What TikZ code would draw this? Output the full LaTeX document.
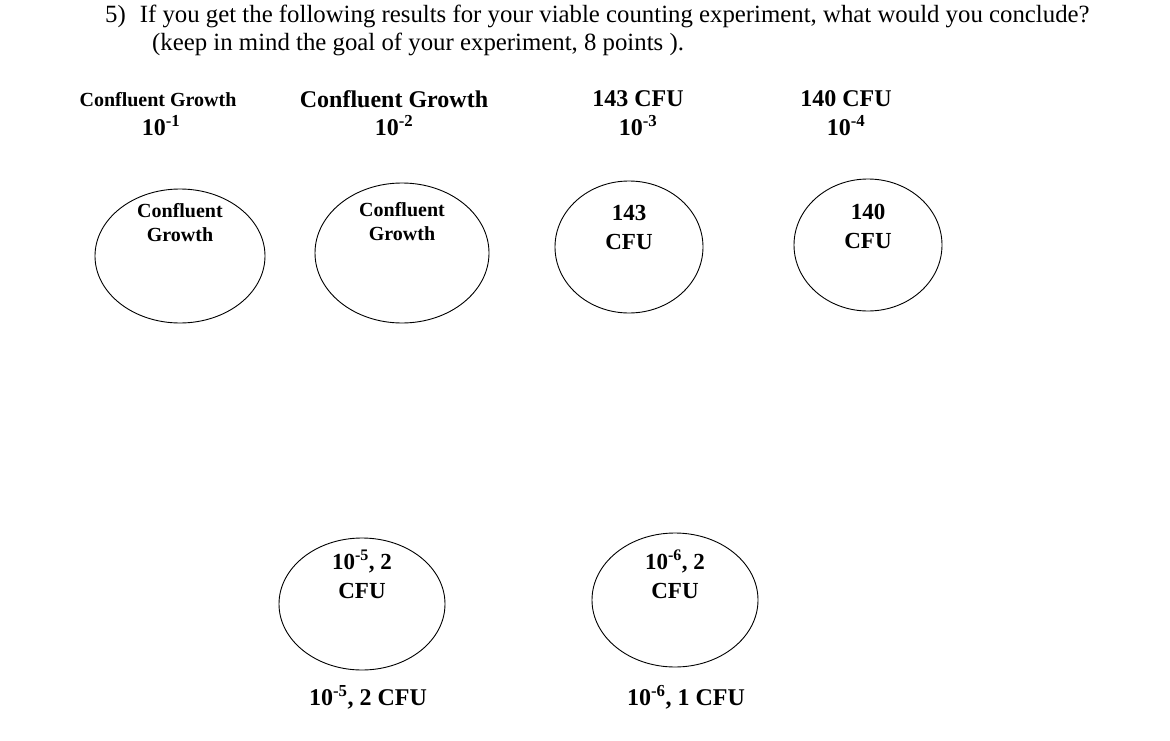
\documentclass[tikz,border=0pt]{standalone}
\usepackage{fontspec}
\setmainfont{Liberation Serif}
\newcommand{\ex}[1]{\textsuperscript{#1}}
\begin{document}
\begin{tikzpicture}[x=1pt,y=-1pt,
  plate/.style={draw,line width=0.9pt},
  lab/.style={font=\bfseries\fontsize{24}{28}\selectfont,align=center,inner sep=0pt},
  slab/.style={font=\bfseries\fontsize{20}{24}\selectfont,align=center,inner sep=0pt},
  clab/.style={font=\bfseries\fontsize{23}{29}\selectfont,align=center,inner sep=0pt}]
\useasboundingbox (0,0) rectangle (1170,741);
\node[anchor=west,inner sep=0pt,font=\fontsize{24.8}{28}\selectfont] (q1) at (105,16) {5)\hspace{14pt}If you get the following results for your viable counting experiment, what would you conclude?};
\node[anchor=west,inner sep=0pt,font=\fontsize{24.8}{28}\selectfont] (q2) at (152,44) {(keep in mind the goal of your experiment, 8 points ).};
\node[slab] (t1) at (158,100) {Confluent Growth};
\node[lab] (e1) at (161,126) {10\ex{-1}};
\node[lab] (t2) at (394,99) {Confluent Growth};
\node[lab] (e2) at (394,126) {10\ex{-2}};
\node[lab] (t3) at (638,99) {143 CFU};
\node[lab] (e3) at (638,126) {10\ex{-3}};
\node[lab] (t4) at (846,99) {140 CFU};
\node[lab] (e4) at (846,126) {10\ex{-4}};
\draw[plate] (180,256) ellipse [x radius=85,y radius=67];
\draw[plate] (402,253) ellipse [x radius=87,y radius=70];
\draw[plate] (629,247) ellipse [x radius=74,y radius=66];
\draw[plate] (868,245) ellipse [x radius=74,y radius=66];
\draw[plate] (362,604) ellipse [x radius=83,y radius=66];
\draw[plate] (675,600) ellipse [x radius=83,y radius=67];
\node[slab] (p1) at (180,223) {Confluent\\Growth};
\node[slab] (p2) at (402,222) {Confluent\\Growth};
\node[clab] (p3) at (629,227) {143\\CFU};
\node[clab] (p4) at (868,226) {140\\CFU};
\node[clab] (p5) at (362,574) {10\ex{-5}, 2\\CFU};
\node[clab] (p6) at (675,574) {10\ex{-6}, 2\\CFU};
\node[lab] (b5) at (368,697) {10\ex{-5}, 2 CFU};
\node[lab] (b6) at (686,697) {10\ex{-6}, 1 CFU};
\end{tikzpicture}
\end{document}
